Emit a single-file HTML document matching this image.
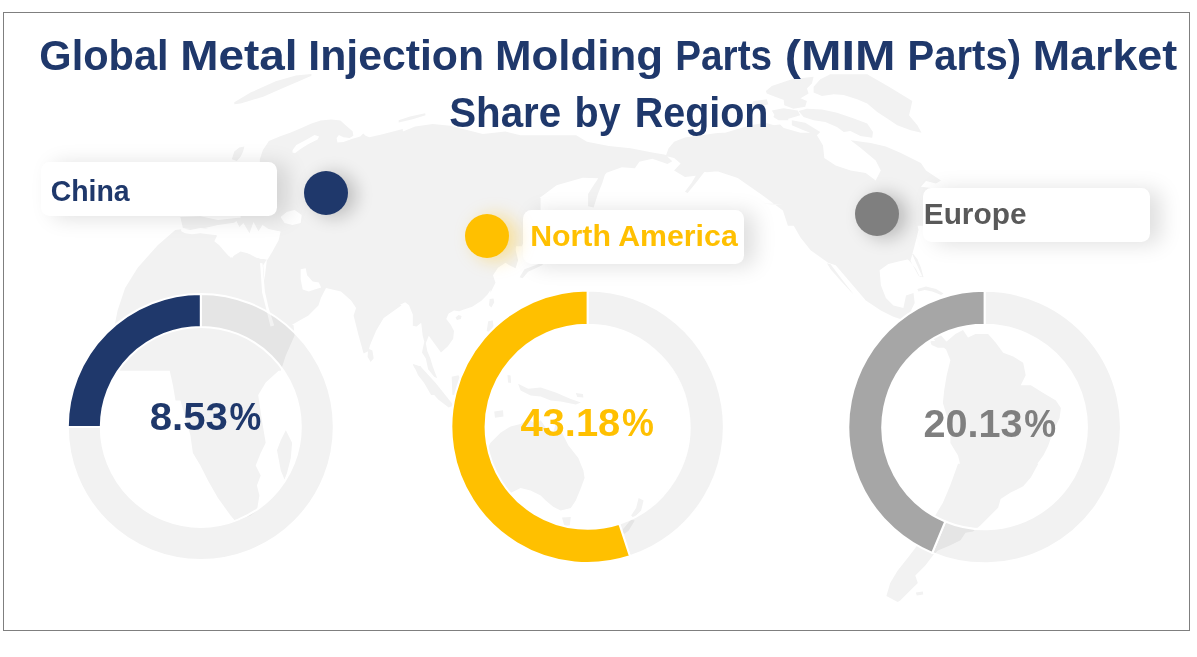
<!DOCTYPE html>
<html><head><meta charset="utf-8"><title>Global Metal Injection Molding Parts (MIM Parts) Market Share by Region</title>
<style>
html,body{margin:0;padding:0;background:#fff;}
body{width:1197px;height:657px;position:relative;overflow:hidden;font-family:"Liberation Sans",sans-serif;}
.frame{position:absolute;left:3px;top:12px;width:1185px;height:617px;border:1px solid #7f7f7f;background:#fff;}
svg{position:absolute;left:0;top:0;}
svg text{font-family:"Liberation Sans",sans-serif;font-weight:700;}
.box{position:absolute;height:53.8px;background:#fff;border-radius:8.5px;box-shadow:11px 2px 21px rgba(0,0,0,0.13);}
.dot{position:absolute;width:44px;height:44px;border-radius:50%;}
</style></head><body>
<div class="frame"></div>
<svg width="1197" height="657" viewBox="0 0 1197 657">
<g id="map" fill="#f2f2f2"><path d="M234.3 102.2L250.6 92.6L275.7 81.3L295.8 75.6L311.4 74.1L311.4 75.8L298.3 81.6L280.8 89.1L263.2 96.7L250.6 100.4L240.6 103.4L234.3 104.2ZM231.8 159.2L234.3 151.6L239.3 147.4L244.4 146.6L243.1 151.6L240.6 156.7L236.8 160.9ZM259.8 159.4L262.8 150.2L268.9 141.1L279.6 136.5L290.2 132.7L300.9 128.2L311.5 123.6L320.7 120.5L331.3 119.5L340.4 120.5L346.5 125.9L352.6 131.2L353.4 135.8L349.6 138.0L343.5 137.3L338.9 135.0L336.6 138.0L337.4 142.6L343.5 141.9L352.6 138.8L360.2 136.5L363.3 133.5L365.6 135.8L369.4 137.3L381.5 134.4L402.8 128.9L402.8 206.5L259.8 206.5ZM240.6 165.4L401.3 165.4L401.3 225.7L240.6 225.7ZM398.7 120.3L410.0 116.5L425.1 113.2L425.6 115.2L412.6 119.3L398.7 122.5ZM398.7 133.3L415.1 126.5L432.6 124.0L450.2 125.8L482.9 134.1L505.4 131.6L520.5 135.3L533.1 137.8L540.6 137.3L540.6 235.7L398.7 235.7ZM498.9 135.2L576.2 135.2L587.0 141.8L608.8 146.1L630.5 148.3L652.3 152.6L665.4 154.8L672.3 161.3L667.5 164.0L652.3 158.7L639.3 161.8L634.9 168.3L621.8 167.2L606.6 172.7L604.9 174.8L602.3 183.1L597.9 194.0L593.6 207.5L588.1 206.2L588.1 194.0L593.6 185.3L598.3 178.3L582.7 177.7L556.6 185.3L539.2 198.3L538.1 207.0L532.6 217.9L528.3 233.1L521.8 246.2L498.9 246.2ZM674.1 141.8L684.9 137.4L717.6 133.1L761.1 130.9L761.1 181.4L750.2 177.0L735.0 173.5L717.6 171.3L706.7 172.2L704.5 171.8L695.8 183.1L687.6 193.1L684.9 191.8L691.5 183.1L695.8 175.7L684.9 177.0L674.1 170.5L680.6 163.5L674.1 158.1L665.8 155.9L668.6 148.3ZM698.7 135.3L725.1 132.8L750.2 125.3L765.3 122.8L782.9 127.8L800.4 132.8L815.5 132.8L823.0 145.4L824.3 157.9L835.6 165.4L850.6 170.5L865.7 173.0L875.7 180.5L880.8 170.5L875.7 160.4L860.7 147.9L850.6 140.3L870.7 142.9L885.8 146.6L900.9 152.9L913.4 159.2L920.9 162.9L926.0 170.5L941.0 180.5L936.0 183.5L926.0 181.0L920.9 186.8L951.1 190.6L951.1 225.7L787.9 225.7L782.9 210.6L762.8 195.6L737.7 178.0L715.1 170.5L698.7 173.0ZM813.6 86.8L820.3 79.2L830.3 74.2L867.2 74.2L888.9 86.8L912.3 101.0L910.7 108.5L909.0 115.2L917.4 125.3L921.5 132.8L910.7 130.3L897.3 125.3L887.2 118.6L877.2 111.9L867.2 103.5L857.1 99.3L843.7 95.1L833.7 94.3L822.0 96.0L813.6 92.6ZM765.9 90.9L771.8 85.9L791.8 79.2L813.6 76.7L811.9 83.4L806.9 88.4L808.6 93.5L800.2 98.5L786.8 101.0L775.1 96.8L766.7 93.5ZM753.3 101.0L766.7 99.3L768.4 104.3L758.4 106.8L751.7 104.3ZM775.1 113.5L786.8 115.2L788.5 120.2L778.5 120.2L773.4 116.9ZM791.8 120.2L805.2 122.7L820.3 131.9L816.9 135.3L803.6 130.3L791.8 125.3ZM798.5 111.0L806.9 108.8L822.0 109.4L837.0 112.7L853.8 118.6L867.2 123.6L873.0 131.9L872.2 137.8L860.5 136.1L850.4 131.1L843.7 131.9L837.0 126.9L825.3 121.9L813.6 120.2L803.6 116.9ZM783.5 98.5L796.9 96.8L806.9 101.0L805.2 106.8L793.5 108.8L784.3 105.2ZM766.7 126.1L780.1 124.4L786.0 130.3L781.8 137.0L770.1 135.3ZM771.8 110.5L783.5 108.2L797.7 110.5L800.2 115.2L787.7 118.9L775.1 116.0ZM956.2 203.7L916.0 217.6L918.5 230.1L914.7 245.2L910.5 260.7L913.5 266.5L918.5 275.8L922.3 276.6L916.0 262.7L912.2 254.0L909.7 259.0L898.4 261.5L888.4 264.0L879.6 270.3L880.9 285.3L885.9 297.9L893.4 305.4L903.4 307.9L906.0 295.4L913.5 292.9L914.7 302.9L911.0 310.4L900.9 315.5L893.4 316.7L880.9 310.4L865.8 300.4L850.7 282.8L835.7 265.3L828.1 262.7L810.6 250.2L800.5 237.6L790.5 220.1L782.9 205.0L762.9 203.7ZM907.2 259.0L912.2 252.7L917.3 259.0L921.0 267.8L923.5 277.3L919.8 276.8L916.0 269.3L912.2 264.3L909.7 261.2ZM826.9 263.2L830.6 264.3L840.7 277.8L853.7 294.4L850.7 291.4L840.7 280.8L830.6 269.3ZM917.3 289.1L926.0 286.6L936.1 289.1L943.6 293.4L941.1 294.9L932.3 291.6L924.8 289.9L918.5 291.6ZM893.4 316.7L900.9 315.5L911.0 310.4L921.0 315.5L931.1 325.5L941.1 335.6L949.9 345.6L946.1 349.4L936.1 341.8L926.0 331.8L913.5 323.0L900.9 319.2ZM930.3 341.4L937.9 338.9L945.4 342.6L955.4 333.9L963.0 330.1L968.0 337.6L975.5 333.9L988.1 333.9L995.6 342.6L1003.2 352.7L1013.2 356.4L1023.2 362.7L1025.7 375.3L1020.7 385.3L1030.8 385.3L1043.3 392.9L1055.9 400.4L1060.9 407.9L1059.6 418.0L1053.4 430.5L1048.3 445.6L1043.3 455.6L1035.8 465.7L1030.8 475.7L958.0 475.7L960.5 465.7L958.0 455.6L950.4 443.1L950.4 430.5L946.7 415.4L942.9 402.9L944.2 390.3L946.7 375.3L950.4 360.2L945.4 347.7L937.9 347.7L931.6 345.1ZM958.0 463.7L1038.3 463.7L1030.8 477.6L1023.2 486.3L1010.7 492.6L1000.6 498.9L998.1 507.7L990.6 515.2L980.6 525.3L973.0 531.5L965.5 532.8L960.5 540.3L950.4 545.3L937.9 550.4L932.9 555.4L925.3 565.4L915.3 575.5L917.8 583.0L900.2 600.6L897.7 602.1L886.4 596.1L890.2 583.0L897.7 570.4L907.7 557.9L915.3 547.9L922.8 537.8L935.4 515.2L942.9 502.7L950.4 485.1ZM915.8 592.5L922.8 591.5L923.3 594.6L916.8 595.6ZM110.0 345.6L115.1 323.0L117.6 310.4L125.1 287.9L137.7 267.8L157.7 245.2L175.3 230.1L182.9 228.9L200.4 226.3L215.5 231.4L218.0 240.1L225.5 250.2L230.6 257.7L240.6 251.4L250.6 254.0L260.7 259.0L267.0 259.0L263.2 265.3L264.4 280.3L267.0 300.4L270.7 323.0L275.7 330.5L293.3 323.0L294.6 335.6L285.8 355.6L280.8 370.7L175.3 370.7L110.0 370.7ZM280.8 368.7L265.7 382.6L258.2 395.1L261.9 420.2L265.7 442.8L260.7 452.9L255.7 465.4L260.7 475.4L256.9 485.5L259.4 495.5L256.9 510.6L250.6 515.6L235.6 521.6L230.6 515.6L218.0 498.0L208.0 480.5L200.4 465.4L192.9 452.9L190.4 435.3L180.3 400.1L174.1 385.1L175.3 368.7ZM125.3 330.2L225.7 330.2L225.7 400.5L175.5 400.5L173.0 385.4L168.0 362.9L164.2 355.3L155.4 355.3L132.9 360.3L125.3 351.6ZM285.8 430.3L292.1 442.8L290.8 457.9L287.0 472.9L284.5 479.5L280.8 470.4L277.0 450.3L280.8 440.3ZM267.0 259.0L275.7 242.7L260.7 220.1L401.3 220.1L401.3 305.4L383.7 318.0L376.2 330.5L369.9 345.6L368.6 351.1L363.6 353.6L358.6 335.6L353.6 315.5L356.1 307.9L351.1 300.4L341.0 291.6L326.0 287.9L320.9 297.9L318.4 305.4L308.4 315.5L290.8 325.5L275.7 330.5L270.7 323.0L267.0 300.4L264.4 280.3ZM368.1 348.6L372.4 350.6L373.7 358.2L370.7 361.9L367.6 356.9ZM180.3 217.1L200.4 216.3L218.0 220.1L240.6 217.6L260.7 220.1L275.7 242.7L260.7 232.6L250.6 237.6L245.6 227.6L240.6 232.6L235.6 222.6L218.0 225.1L200.4 228.9L182.9 228.1ZM378.7 223.7L520.6 223.7L516.8 240.1L515.6 250.1L518.1 260.1L515.6 268.2L509.3 265.2L505.5 262.7L498.0 267.7L493.0 275.2L495.5 282.7L490.5 292.8L490.5 290.0L487.5 294.6L481.4 300.7L472.2 306.8L463.1 309.8L459.3 311.3L454.0 310.6L448.6 313.6L446.3 318.9L450.9 325.0L454.0 331.1L453.2 338.7L447.9 346.3L441.0 352.4L434.2 343.3L428.8 335.7L425.8 343.3L427.3 350.9L430.4 358.5L432.6 366.1L434.9 372.2L437.2 378.3L434.2 376.8L428.1 369.2L425.8 358.5L422.0 352.4L424.3 341.8L422.7 335.7L421.2 322.7L416.6 326.5L412.8 325.8L412.8 314.4L409.0 305.2L405.2 302.2L396.1 306.8L390.0 311.3L383.0 300.0ZM455.5 317.4L458.5 315.1L461.6 315.9L460.8 318.9L457.0 320.0ZM489.7 299.1L493.5 298.4L494.3 302.2L491.3 307.5L489.0 305.2ZM488.2 321.2L492.8 320.5L493.5 325.8L490.5 332.6L486.7 331.1L487.5 325.8ZM412.8 364.6L420.5 366.1L428.1 378.3L435.7 387.5L440.3 395.1L431.1 395.1L420.5 376.8L414.4 367.7ZM451.7 376.8L458.5 375.3L461.6 381.4L460.0 395.1L452.4 395.1ZM519.6 277.2L524.4 269.2L540.7 263.2L543.2 264.7L528.1 271.7L522.6 278.2ZM413.1 364.0L420.6 366.5L435.7 382.9L445.7 395.4L453.7 405.4L448.7 407.5L438.2 399.4L428.1 387.9L418.1 375.3ZM490.5 442.8L500.5 432.8L510.6 426.5L520.6 424.0L528.1 419.0L535.7 424.0L540.7 420.2L545.7 427.7L553.2 432.8L555.7 424.0L559.5 420.2L562.0 432.8L568.3 445.3L578.3 457.9L583.4 470.4L584.6 478.0L580.9 488.0L575.8 500.6L570.8 508.1L560.8 510.6L553.2 506.8L545.7 500.6L540.7 495.5L530.6 490.5L520.6 488.0L510.6 493.0L503.0 495.5L495.5 490.5L490.5 478.0L488.0 462.9L486.7 450.3ZM562.0 517.6L570.8 516.9L569.8 525.2L564.5 526.2ZM518.1 383.8L528.1 388.8L540.7 387.6L555.7 392.6L570.8 398.9L580.9 402.6L575.8 404.4L560.8 401.6L550.7 400.4L540.7 396.6L530.6 395.4L520.6 390.6ZM575.8 393.1L582.9 394.1L583.4 397.6L577.3 397.1ZM507.5 375.0L510.6 375.5L511.1 383.1L508.0 382.6ZM494.2 411.4L503.0 410.2L503.5 416.4L495.0 417.7ZM638.6 498.0L643.6 500.6L641.1 510.6L633.6 518.1L631.1 515.6L636.1 508.1ZM631.1 519.4L634.8 520.6L628.6 530.7L621.0 536.2L618.5 534.4L624.8 526.9Z" fill="#f2f2f2" fill-rule="nonzero"/><path d="M292.5 150.2L296.3 144.9L305.4 140.3L314.6 135.0L319.1 136.5L317.6 139.6L308.5 144.1L300.9 148.7L294.8 153.3L292.5 152.5ZM300.7 269.3L305.7 268.3L307.1 275.3L312.7 281.4L318.8 282.4L321.2 287.4L314.7 289.4L308.7 291.4L302.7 289.4L300.7 279.4ZM260.1 262.9L262.5 263.3L264.9 291.4L268.5 307.5L274.2 325.5L270.5 326.6L266.1 308.5L262.1 292.4ZM280.6 217.1L286.6 212.1L294.6 210.1L301.7 215.1L300.7 223.1L292.6 225.1L284.6 223.1ZM181.2 228.1L190.2 230.1L200.3 228.1L216.3 229.5L220.3 232.2L226.4 229.5L236.4 221.1L239.4 227.1L243.4 223.1L249.5 233.2L253.5 222.1L258.5 231.2L262.5 225.1L268.5 229.1L280.6 231.6L278.6 240.2L272.6 251.2L267.5 259.7L256.5 257.7L248.5 253.6L240.4 249.2L236.4 251.6L232.4 257.7L228.4 255.7L224.4 251.2L219.3 245.2L214.3 241.2L217.3 235.2L208.3 234.2L200.3 233.2L192.2 234.2L185.2 233.2L181.2 231.2Z" fill="#ffffff"/></g>
<g id="donuts"><path d="M200.80 293.90A133.0 133.0 0 1 1 67.80 426.90L100.80 426.90A100.0 100.0 0 1 0 200.80 326.90Z" fill="rgba(0,0,0,0.051)" stroke="#fff" stroke-width="2" stroke-linejoin="miter"/><path d="M67.80 426.90A133.0 133.0 0 0 1 200.80 293.90L200.80 326.90A100.0 100.0 0 0 0 100.80 426.90Z" fill="#1f386b" stroke="#fff" stroke-width="2" stroke-linejoin="miter"/><path d="M587.60 290.50A136.25 136.25 0 0 1 629.93 556.26L619.29 523.70A102.0 102.0 0 0 0 587.60 324.75Z" fill="rgba(0,0,0,0.051)" stroke="#fff" stroke-width="2" stroke-linejoin="miter"/><path d="M629.93 556.26A136.25 136.25 0 1 1 587.60 290.50L587.60 324.75A102.0 102.0 0 1 0 619.29 523.70Z" fill="#ffc000" stroke="#fff" stroke-width="2" stroke-linejoin="miter"/><path d="M984.60 290.75A136.3 136.3 0 1 1 932.22 552.88L945.29 521.49A102.3 102.3 0 1 0 984.60 324.75Z" fill="rgba(0,0,0,0.051)" stroke="#fff" stroke-width="2" stroke-linejoin="miter"/><path d="M932.22 552.88A136.3 136.3 0 0 1 984.60 290.75L984.60 324.75A102.3 102.3 0 0 0 945.29 521.49Z" fill="#a6a6a6" stroke="#fff" stroke-width="2" stroke-linejoin="miter"/></g>
</svg>
<div class="box" style="left:41px;top:162px;width:236px"></div>
<div class="box" style="left:523px;top:210px;width:220.8px"></div>
<div class="box" style="left:923px;top:187.8px;width:227px"></div>
<div class="dot" style="left:304px;top:170.5px;background:#1f386b;box-shadow:8px 2px 17px 1px rgba(0,0,0,0.20)"></div>
<div class="dot" style="left:465px;top:214px;background:#ffc000;box-shadow:8px 2px 17px 1px rgba(255,192,0,0.36)"></div>
<div class="dot" style="left:855px;top:191.6px;background:#7f7f7f;box-shadow:8px 2px 17px 1px rgba(0,0,0,0.22)"></div>
<svg id="txt" width="1197" height="657" viewBox="0 0 1197 657" style="will-change:transform;opacity:0.999">
<text transform="translate(39.35 69.70) scale(0.9750 1)" font-size="42.6" fill="#1f386b" >Global</text><text transform="translate(180.17 69.70) scale(1.0777 1)" font-size="42.6" fill="#1f386b" >Metal</text><text transform="translate(308.29 69.70) scale(1.0041 1)" font-size="42.6" fill="#1f386b" >Injection</text><text transform="translate(494.91 69.70) scale(1.0299 1)" font-size="42.6" fill="#1f386b" >Molding</text><text transform="translate(675.27 69.70) scale(0.9088 1)" font-size="42.6" fill="#1f386b" >Parts</text><text transform="translate(784.72 69.70) scale(1.1413 1)" font-size="42.6" fill="#1f386b" >(MIM</text><text transform="translate(907.58 69.70) scale(0.9397 1)" font-size="42.6" fill="#1f386b" >Parts)</text><text transform="translate(1032.64 69.70) scale(1.0530 1)" font-size="42.6" fill="#1f386b" >Market</text><text transform="translate(449.25 127.00) scale(0.9457 1)" font-size="42.6" fill="#1f386b" >Share</text><text transform="translate(574.62 127.00) scale(0.9261 1)" font-size="42.6" fill="#1f386b" >by</text><text transform="translate(634.72 127.00) scale(0.9259 1)" font-size="42.6" fill="#1f386b" >Region</text><text transform="translate(50.63 200.90) scale(0.9679 1)" font-size="29.4" fill="#1f386b" >China</text><text transform="translate(530.14 246.30) scale(1.0305 1)" font-size="29.4" fill="#ffc000" >North America</text><text transform="translate(923.77 224.20) scale(1.0143 1)" font-size="29.4" fill="#595959" >Europe</text><text transform="translate(149.69 429.50) scale(1.0107 1)" font-size="39.7" fill="#1f386b" >8.53</text><text transform="translate(229.40 429.50) scale(0.9000 1)" font-size="39.7" fill="#1f386b" >%</text><text transform="translate(520.39 435.50) scale(1.0062 1)" font-size="39.7" fill="#ffc000" >43.18</text><text transform="translate(622.10 435.50) scale(0.9030 1)" font-size="39.7" fill="#ffc000" >%</text><text transform="translate(923.40 436.80) scale(0.9979 1)" font-size="39.7" fill="#7f7f7f" >20.13</text><text transform="translate(1024.30 436.80) scale(0.9030 1)" font-size="39.7" fill="#7f7f7f" >%</text>
</svg>
</body></html>
